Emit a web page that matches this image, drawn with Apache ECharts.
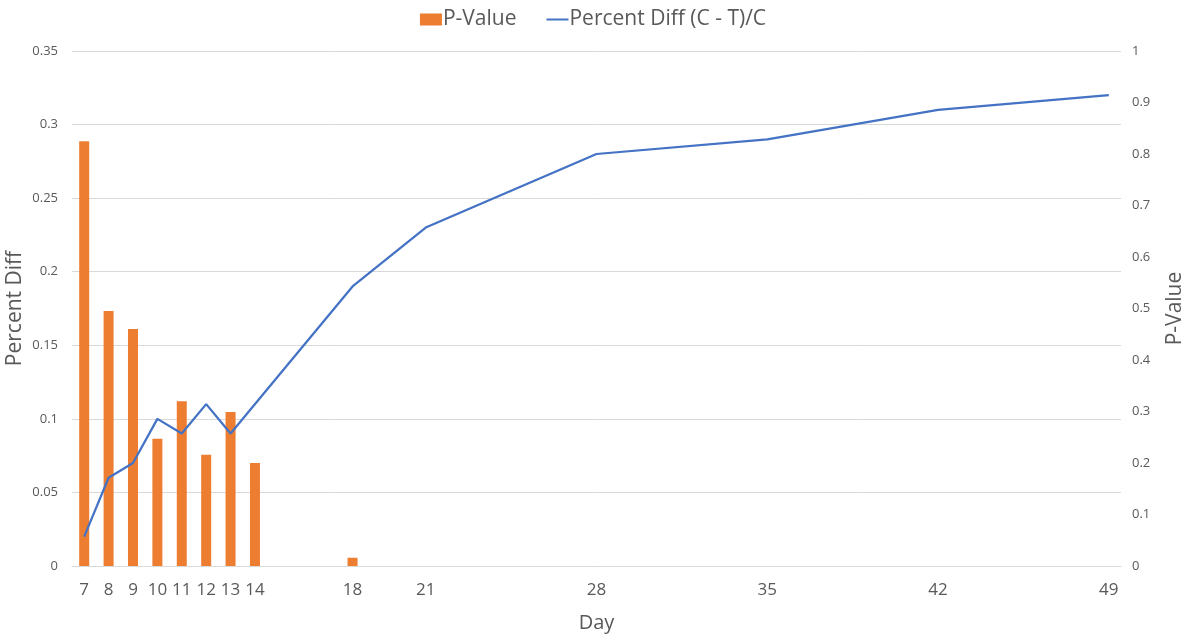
<!DOCTYPE html>
<html>
<head>
<meta charset="utf-8">
<script src="https://cdn.jsdelivr.net/npm/echarts@6/dist/echarts.min.js"></script>
<style>html,body{margin:0;padding:0;background:#fff}#c{width:1186px;height:638px}</style>
</head>
<body>
<div id="c"></div>
<script>
var tickDays = [7, 8, 9, 10, 11, 12, 13, 14, 18, 21, 28, 35, 42, 49];
var barDays = [7, 8, 9, 10, 11, 12, 13, 14, 18];
var pValues = [0.825, 0.495, 0.46, 0.247, 0.32, 0.216, 0.299, 0.2, 0.016];
var lineDays = [7, 8, 9, 10, 11, 12, 13, 18, 21, 28, 35, 42, 49];
var percentDiff = [0.02, 0.06, 0.07, 0.1, 0.09, 0.11, 0.09, 0.19, 0.23, 0.28, 0.29, 0.31, 0.32];
var leftTicks = [0, 0.05, 0.1, 0.15, 0.2, 0.25, 0.3, 0.35];
var rightTicks = [0, 0.1, 0.2, 0.3, 0.4, 0.5, 0.6, 0.7, 0.8, 0.9, 1];

var FONT = '"Open Sans", sans-serif';
var TXT = '#595959';
var chart = echarts.init(document.getElementById('c'));
chart.setOption({
  animation: false,
  textStyle: {fontFamily: FONT},
  legend: {
    top: 4, left: 'center',
    itemWidth: 22, itemHeight: 12, itemGap: 30,
    textStyle: {fontSize: 21, color: TXT, fontFamily: FONT, padding: [0,0,0,-4]},
    data: [
      {name: 'P-Value', icon: 'rect'},
      {name: 'Percent Diff (C - T)/C', icon: 'path://M0,0 L22,0 L22,2 L0,2 Z', itemHeight: 2}
    ]
  },
  grid: {left: 72, right: 65, top: 51, bottom: 72, containLabel: false, outerBoundsMode: 'none'},
  xAxis: {
    type: 'value', min: 6.5, max: 49.5,
    name: 'Day', nameLocation: 'middle', nameGap: 47, nameMoveOverlap: false,
    nameTextStyle: {fontSize: 20, color: TXT, fontFamily: FONT},
    axisLine: {show: true, lineStyle: {color: '#D9D9D9'}},
    axisTick: {show: false},
    splitLine: {show: false},
    axisLabel: {customValues: tickDays, fontSize: 17, color: TXT, margin: 16, fontFamily: FONT}
  },
  yAxis: [{
    type: 'value', min: 0, max: 0.35, interval: 0.05,
    name: 'Percent Diff', nameLocation: 'middle', nameGap: 46, nameRotate: 90, nameMoveOverlap: false,
    nameTextStyle: {fontSize: 21, color: TXT, fontFamily: FONT},
    axisLine: {show: false}, axisTick: {show: false},
    splitLine: {lineStyle: {color: '#D9D9D9'}},
    axisLabel: {customValues: leftTicks, fontSize: 13, color: TXT, margin: 14, fontFamily: FONT,
      formatter: function(v){ return String(+v.toFixed(2)); }}
  }, {
    type: 'value', min: 0, max: 1, interval: 0.1,
    name: 'P-Value', nameLocation: 'middle', nameGap: 44, nameRotate: 90, nameMoveOverlap: false,
    nameTextStyle: {fontSize: 21, color: TXT, fontFamily: FONT},
    axisLine: {show: false}, axisTick: {show: false},
    splitLine: {show: false},
    axisLabel: {customValues: rightTicks, fontSize: 13, color: TXT, margin: 11, fontFamily: FONT,
      formatter: function(v){ return String(+v.toFixed(1)); }}
  }],
  series: [{
    name: 'P-Value', type: 'bar', yAxisIndex: 1, barWidth: 10,
    itemStyle: {color: '#ED7D31'},
    data: barDays.map(function(d, i){ return [d, pValues[i]]; })
  }, {
    name: 'Percent Diff (C - T)/C', type: 'line', yAxisIndex: 0,
    symbol: 'none', lineStyle: {color: '#4472C4', width: 2.25},
    itemStyle: {color: '#4472C4'},
    data: lineDays.map(function(d, i){ return [d, percentDiff[i]]; })
  }]
});
</script>
</body>
</html>
